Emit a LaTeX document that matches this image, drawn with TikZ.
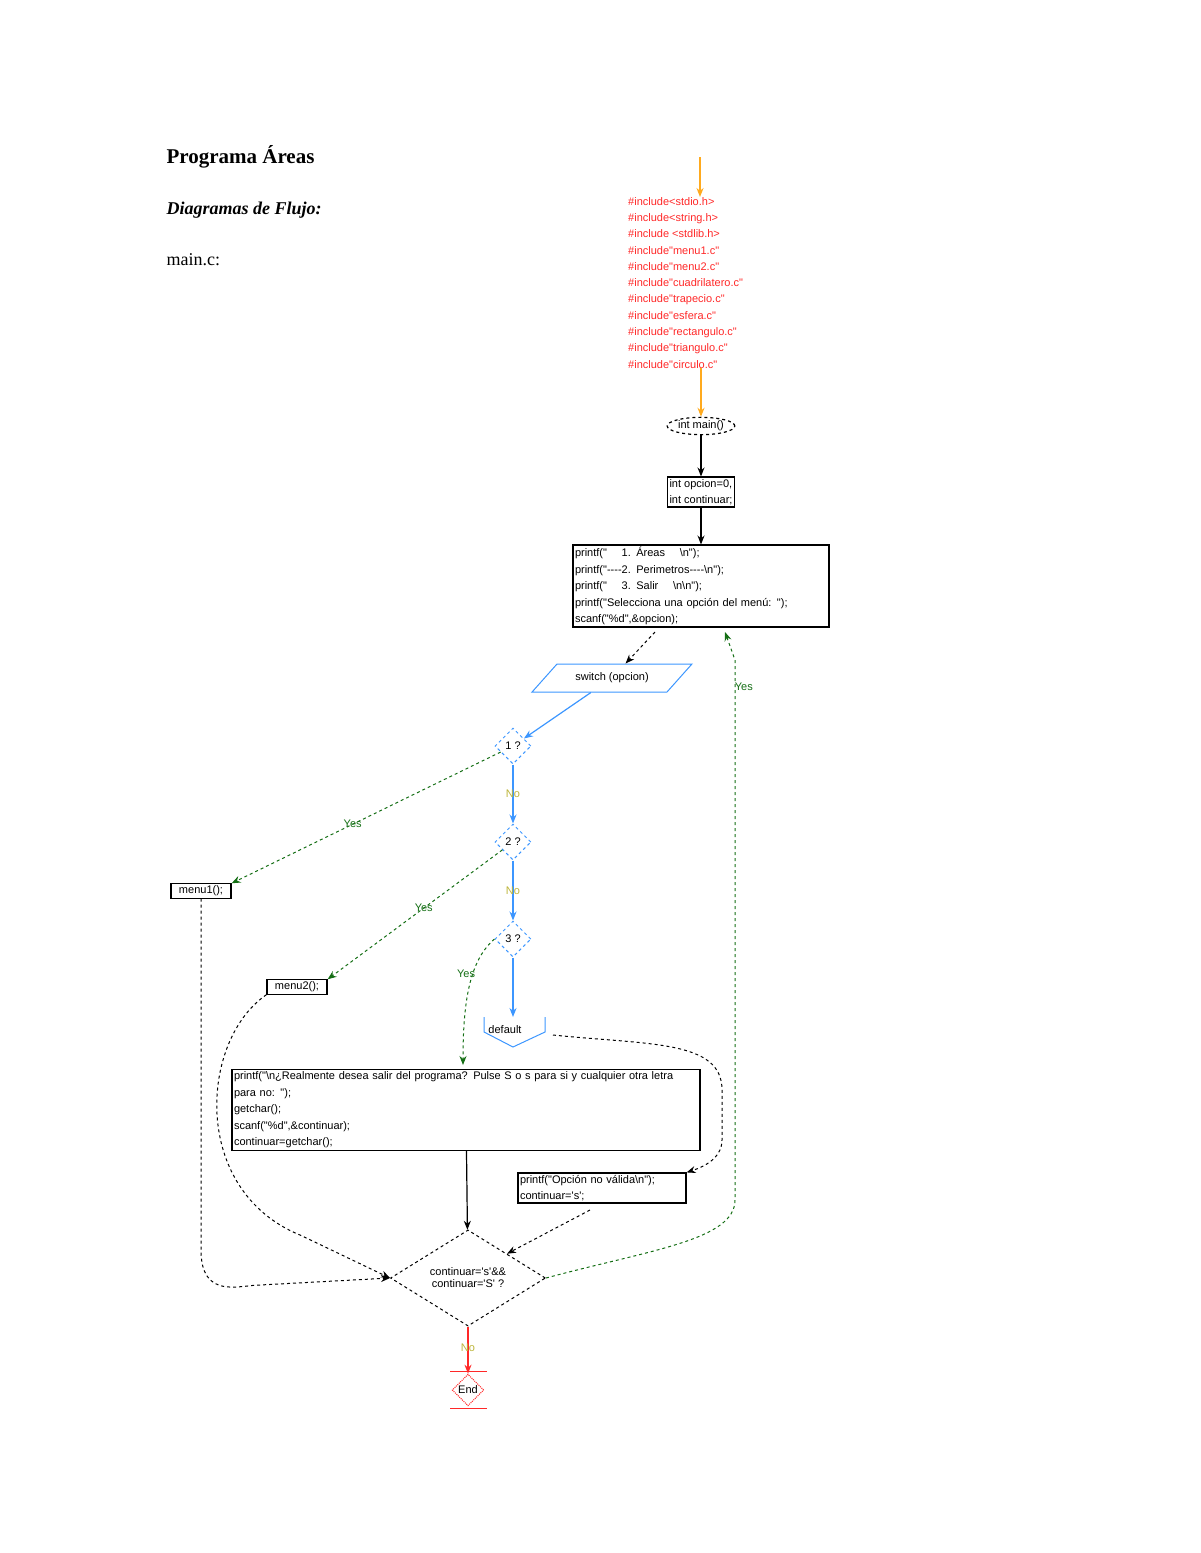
\documentclass[tikz,border=0pt]{standalone}
\usepackage{fontspec}
\setmainfont{Liberation Serif}
\newfontfamily\diag{Liberation Sans}
\usetikzlibrary{shapes.geometric,arrows.meta}
\definecolor{inc}{RGB}{255,40,40}
\definecolor{org}{RGB}{255,170,30}
\definecolor{sky}{RGB}{60,150,255}
\definecolor{grn}{RGB}{20,110,20}
\tikzset{box/.style = {rectangle, draw, line width=1.2pt, align=left, inner sep=2pt, font=\diag\fontsize{11}{16.5}\selectfont},
         dec/.style = {diamond, draw=sky, dashed, line width=1pt, minimum size=36pt, inner sep=0pt, font=\diag\fontsize{11}{12}\selectfont},
         lbl/.style = {font=\diag\fontsize{11}{12}\selectfont},
         yes/.style = {->, grn, dashed, line width=1pt},
         no/.style  = {->, sky, line width=1.2pt}}

\begin{document}
\begin{tikzpicture}[x=1pt, y=-1pt, >={Stealth[length=9pt,width=7pt]}]
    \useasboundingbox (0,0) rectangle (1200,1553);
    \node[anchor=west, font=\bfseries\fontsize{21}{24}\selectfont] (ttl) at (163,157) {Programa Áreas};
    \node[anchor=west, font=\bfseries\itshape\fontsize{18}{20}\selectfont] (sub) at (163,210) {Diagramas de Flujo:};
    \node[anchor=west, font=\fontsize{18}{20}\selectfont] (fil) at (163,260) {main.c:};
    \coordinate (st) at (700,157);
    \node[anchor=north west, inc, align=left, inner sep=0pt, font=\diag\fontsize{11}{16.3}\selectfont] (inc) at (628,197)
      {\#include<stdio.h>\\\#include<string.h>\\\#include <stdlib.h>\\\#include"menu1.c"\\\#include"menu2.c"\\\#include"cuadrilatero.c"\\\#include"trapecio.c"\\\#include"esfera.c"\\\#include"rectangulo.c"\\\#include"triangulo.c"\\\#include"circulo.c"};
    \node[ellipse, draw, dashed, line width=1.2pt, inner sep=1pt, lbl] (mn) at (701,426) {int main()};
    \node[box] (dcl) at (701,492) {int opcion=0,\\int continuar;};
    \node[box, text width=252pt] (prn) at (701,586) {printf("\ \ \ \ 1. Áreas\ \ \ \ \textbackslash n");\\printf("----2. Perimetros----\textbackslash n");\\printf("\ \ \ \ 3. Salir\ \ \ \ \textbackslash n\textbackslash n");\\printf("Selecciona una opción del menú: ");\\scanf("\%d",\&opcion);};
    \node[trapezium, trapezium left angle=43, trapezium right angle=137, trapezium stretches=true, draw=sky, line width=1pt, minimum width=160pt, minimum height=28pt, lbl] (sw) at (612,678) {switch (opcion)};
    \node[dec] (d1) at (513,746) {1 ?};
    \node[dec] (d2) at (513,842) {2 ?};
    \node[dec] (d3) at (513,939) {3 ?};
    \node[lbl] (dft) at (505,1030) {default};
    \draw[sky, line width=1pt] (484,1017) -- (484,1032) -- (513,1047) -- (545,1032) -- (545,1017);
    \node[box, minimum width=60pt] (m1) at (201,891) {menu1();};
    \node[box, minimum width=60pt] (m2) at (297,987) {menu2();};
    \node[box, text width=464pt] (ask) at (466,1110) {printf("\textbackslash n¿Realmente desea salir del programa? Pulse S o s para si y cualquier otra letra para no: ");\\getchar();\\scanf("\%d",\&continuar);\\continuar=getchar();};
    \node[box, text width=164pt] (inv) at (602,1188) {printf("Opción no válida\textbackslash n");\\continuar='s';};
    \node[diamond, draw, dashed, line width=1pt, minimum width=155pt, minimum height=85pt, inner sep=0pt, align=center, lbl] (cnd) at (468,1278) {continuar='s'\&\&\\continuar='S' ?};
    \node[diamond, draw=inc, densely dotted, line width=1pt, inner sep=1pt, lbl] (end) at (468,1390) {End};
    \draw[inc, line width=1pt] (450,1371) -- (487,1371) (450,1408) -- (487,1408);
    % flow
    \draw[->, org, line width=1.5pt] (st) -- (inc.north -| st);
    \draw[->, org, line width=1.5pt] (inc.south -| mn) -- (mn);
    \draw[->, line width=1.2pt] (mn) -- (dcl);
    \draw[->, line width=1.2pt] (dcl) -- (prn);
    \draw[->, dashed, line width=1pt] (655,632) -- (sw);
    \draw[no] (sw) -- (d1);
    \draw[yes] (d1) -- node[lbl, pos=.55] {Yes} (m1.north east);
    \draw[no] (d1) -- node[lbl, yellow!70!black] {No} (d2);
    \draw[yes] (d2) -- node[lbl, pos=.45] {Yes} (m2.north east);
    \draw[no] (d2) -- node[lbl, yellow!70!black] {No} (d3);
    \draw[yes] (d3.west) .. controls (470,960) and (463,1000) .. node[lbl, pos=.4, left=-6pt] {Yes} (463,1065);
    \draw[no] (d3) -- (513,1017);
    \draw[->, dashed, line width=1pt] (553,1035) .. controls (650,1045) and (722,1040) .. (722,1090) -- (722,1140) .. controls (722,1160) and (700,1168) .. (inv.north east);
    \draw[->, line width=1.2pt] (ask) -- (cnd);
    \draw[->, dashed, line width=1pt] (590,1210) -- (cnd.north east);
    \draw[->, dashed, line width=1pt] (m1) -- (201,1250) .. controls (201,1300) and (240,1285) .. (260,1285) -- (cnd.west);
    \draw[->, dashed, line width=1pt] (m2.south west) .. controls (200,1040) and (190,1190) .. (300,1235) -- (cnd.west);
    \draw[yes] (cnd.east) .. controls (650,1250) and (735,1240) .. (735,1200) -- node[lbl, pos=.95, right=-4pt] {Yes} (735,660) -- (725,632);
    \draw[->, inc, line width=1.2pt] (cnd) -- node[lbl, yellow!70!black, pos=.45] {No} (end);
\end{tikzpicture}
\end{document}
